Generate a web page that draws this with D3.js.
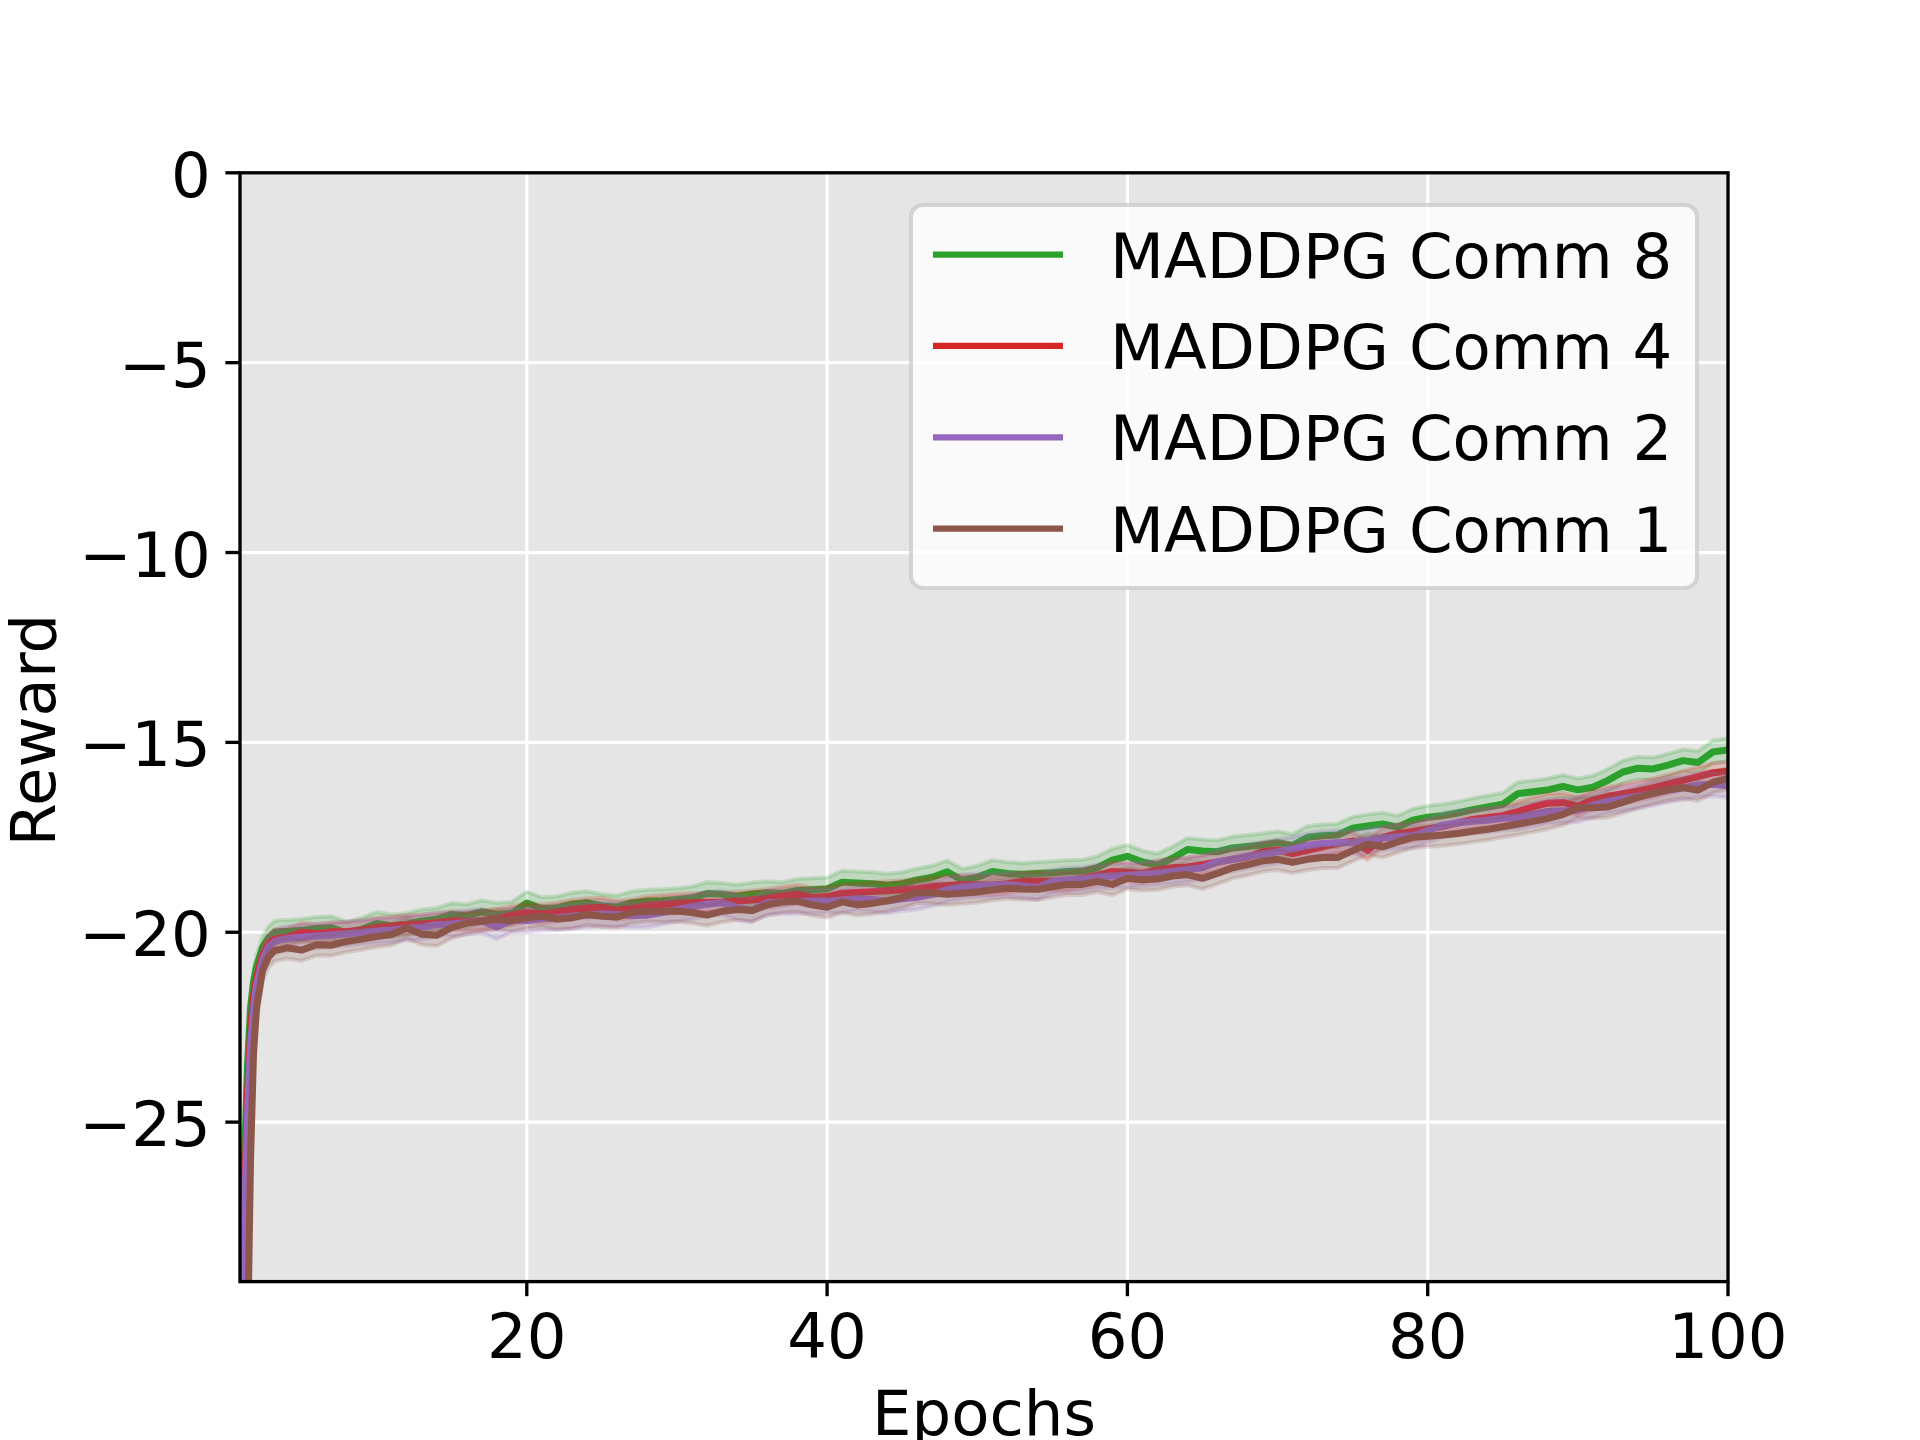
<!DOCTYPE html>
<html>
<head>
<meta charset="utf-8">
<script src="https://cdn.jsdelivr.net/npm/d3@7"></script>
<style>
  body { margin: 0; background: #fff; }
  text { font-family: "DejaVu Sans", sans-serif; fill: #000; }
</style>
</head>
<body>
<svg id="chart" width="1920" height="1440"></svg>
<script>
// epochs (x) shared by every run
const epochs = [1.0, 1.2, 1.4, 1.6, 1.8, 2.0, 2.4, 2.8, 3.2, 3.6,
  4, 5, 6, 7, 8, 9, 10, 11, 12, 13, 14, 15, 16, 17, 18, 19, 20, 21, 22,
  23, 24, 25, 26, 27, 28, 29, 30, 31, 32, 33, 34, 35, 36, 37, 38, 39, 40,
  41, 42, 43, 44, 45, 46, 47, 48, 49, 50, 51, 52, 53, 54, 55, 56, 57, 58, 59, 60,
  61, 62, 63, 64, 65, 66, 67, 68, 69, 70, 71, 72, 73, 74, 75, 76, 77, 78, 79, 80,
  81, 82, 83, 84, 85, 86, 87, 88, 89, 90, 91, 92, 93, 94, 95, 96, 97, 98, 99, 100];

const comm8 = [-29.3, -26.0, -23.5, -22.0, -21.3, -20.9, -20.4, -20.15, -20.0, -19.98,
  -19.98, -19.95, -19.90, -19.88, -20.02, -19.92, -19.77, -19.83, -19.79, -19.70, -19.66, -19.53, -19.56, -19.46, -19.53, -19.50, -19.23, -19.38, -19.36,
  -19.26, -19.22, -19.30, -19.33, -19.22, -19.18, -19.17, -19.14, -19.10, -18.98, -19.00, -19.05, -18.99, -18.96, -18.98, -18.90, -18.88, -18.86,
  -18.68, -18.70, -18.72, -18.76, -18.72, -18.62, -18.55, -18.41, -18.63, -18.55, -18.40, -18.45, -18.48, -18.45, -18.43, -18.40, -18.39, -18.30, -18.10, -18.00,
  -18.15, -18.23, -18.05, -17.82, -17.86, -17.88, -17.78, -17.74, -17.70, -17.64, -17.72, -17.50, -17.46, -17.44, -17.26, -17.20, -17.15, -17.23, -17.05, -16.97,
  -16.93, -16.86, -16.77, -16.70, -16.63, -16.35, -16.30, -16.25, -16.16, -16.25, -16.18, -16.00, -15.78, -15.68, -15.70, -15.60, -15.48, -15.53, -15.25, -15.20];

const comm4 = [-30.5, -27.0, -24.3, -22.6, -21.7, -21.2, -20.6, -20.3, -20.18, -20.15,
  -20.14, -20.00, -20.04, -19.99, -19.98, -19.95, -19.87, -19.84, -19.80, -19.78, -19.75, -19.70, -19.72, -19.69, -19.64, -19.56, -19.48, -19.52, -19.47,
  -19.40, -19.36, -19.34, -19.42, -19.38, -19.30, -19.27, -19.24, -19.22, -19.21, -19.20, -19.18, -19.15, -19.11, -19.05, -19.00, -19.08, -19.06,
  -18.97, -18.95, -18.93, -18.91, -18.88, -18.85, -18.80, -18.77, -18.74, -18.75, -18.76, -18.72, -18.66, -18.65, -18.66, -18.65, -18.58, -18.50, -18.40, -18.42,
  -18.45, -18.36, -18.30, -18.28, -18.22, -18.15, -18.08, -18.02, -17.88, -17.83, -17.93, -17.84, -17.75, -17.66, -17.60, -17.84, -17.50, -17.40, -17.35, -17.28,
  -17.21, -17.12, -17.03, -16.98, -16.93, -16.82, -16.70, -16.60, -16.58, -16.68, -16.52, -16.42, -16.35, -16.28, -16.20, -16.10, -16.00, -15.90, -15.80, -15.76];

const comm2 = [-31.0, -27.5, -24.8, -23.0, -22.0, -21.4, -20.75, -20.4, -20.25, -20.2,
  -20.17, -20.13, -20.10, -20.07, -20.04, -20.00, -19.97, -19.94, -19.90, -19.87, -19.80, -19.78, -19.74, -19.70, -19.86, -19.68, -19.69, -19.64, -19.62,
  -19.58, -19.55, -19.52, -19.53, -19.56, -19.55, -19.48, -19.40, -19.33, -19.26, -19.22, -19.35, -19.42, -19.22, -19.20, -19.19, -19.18, -19.18,
  -19.16, -19.11, -19.14, -19.18, -19.12, -19.08, -19.00, -18.88, -18.80, -18.77, -18.76, -18.74, -18.78, -18.82, -18.66, -18.62, -18.60, -18.54, -18.52, -18.50,
  -18.47, -18.44, -18.40, -18.35, -18.30, -18.15, -18.08, -18.00, -17.94, -17.88, -17.81, -17.72, -17.66, -17.64, -17.64, -17.58, -17.52, -17.48, -17.46, -17.32,
  -17.18, -17.12, -17.08, -17.05, -17.00, -16.98, -16.90, -16.82, -16.80, -16.78, -16.66, -16.55, -16.48, -16.42, -16.35, -16.26, -16.20, -16.12, -16.10, -16.14];

const comm1 = [-34.0, -32.0, -31.0, -26.0, -23.2, -22.0, -21.0, -20.65, -20.48, -20.45,
  -20.41, -20.47, -20.33, -20.34, -20.24, -20.18, -20.11, -20.06, -19.89, -20.05, -20.08, -19.88, -19.76, -19.71, -19.66, -19.70, -19.62, -19.58, -19.65,
  -19.62, -19.53, -19.58, -19.60, -19.48, -19.44, -19.45, -19.44, -19.48, -19.55, -19.45, -19.40, -19.43, -19.28, -19.20, -19.18, -19.28, -19.34,
  -19.20, -19.28, -19.24, -19.17, -19.08, -18.95, -18.96, -19.00, -18.97, -18.94, -18.88, -18.84, -18.86, -18.87, -18.80, -18.74, -18.74, -18.66, -18.74, -18.58,
  -18.62, -18.60, -18.52, -18.48, -18.58, -18.45, -18.30, -18.22, -18.12, -18.08, -18.16, -18.08, -18.03, -18.03, -17.85, -17.68, -17.75, -17.62, -17.50, -17.47,
  -17.44, -17.40, -17.34, -17.29, -17.22, -17.15, -17.08, -17.00, -16.90, -16.72, -16.72, -16.70, -16.58, -16.45, -16.34, -16.25, -16.19, -16.26, -16.05, -15.95];

// half width of the shaded spread around each run
const spread = [0.30, 0.25, 0.32, 0.28];

const labels = ["MADDPG Comm 8", "MADDPG Comm 4", "MADDPG Comm 2", "MADDPG Comm 1"];
const xTicks = [20, 40, 60, 80, 100];
const yTicks = [0, -5, -10, -15, -20, -25];

const colors = ["#2ca02c", "#d62728", "#9467bd", "#8c564b"];
const runs = [comm8, comm4, comm2, comm1];

const plotL = 240, plotR = 1728, plotT = 172.8, plotB = 1281.6;
const fs = 62.5;
const tickLen = 14.6;

const svg = d3.select("#chart");

const x = d3.scaleLinear().domain([0.9, 100]).range([plotL, plotR]);
const y = d3.scaleLinear().domain([-29.2, 0]).range([plotB, plotT]);

svg.append("rect")
    .attr("x", plotL).attr("y", plotT)
    .attr("width", plotR - plotL).attr("height", plotB - plotT)
    .style("fill", "#e5e5e5");

svg.append("clipPath").attr("id", "plot-clip")
    .append("rect")
    .attr("x", plotL).attr("y", plotT)
    .attr("width", plotR - plotL).attr("height", plotB - plotT);

// grid
const grid = svg.append("g");
grid.selectAll(".gx").data(xTicks).enter().append("line")
    .attr("x1", d => x(d)).attr("x2", d => x(d))
    .attr("y1", plotT).attr("y2", plotB)
    .style("stroke", "#fff").style("stroke-width", 3.2);
grid.selectAll(".gy").data(yTicks).enter().append("line")
    .attr("x1", plotL).attr("x2", plotR)
    .attr("y1", d => y(d)).attr("y2", d => y(d))
    .style("stroke", "#fff").style("stroke-width", 3.2);

// runs
const plot = svg.append("g").attr("clip-path", "url(#plot-clip)");
const line = d3.line()
    .x((d, i) => x(epochs[i]))
    .y(d => y(d));

runs.forEach((run, k) => {
    const band = d3.area()
        .x((d, i) => x(epochs[i]))
        .y0(d => y(d - spread[k]))
        .y1(d => y(d + spread[k]));
    plot.append("path")
        .datum(run)
        .attr("d", band)
        .style("fill", colors[k])
        .style("fill-opacity", 0.2)
        .style("stroke", colors[k])
        .style("stroke-opacity", 0.2)
        .style("stroke-width", 4);
    plot.append("path")
        .datum(run)
        .attr("d", line)
        .style("fill", "none")
        .style("stroke", colors[k])
        .style("stroke-width", 7)
        .style("stroke-linejoin", "round");
});

// spines
svg.append("rect")
    .attr("x", plotL).attr("y", plotT)
    .attr("width", plotR - plotL).attr("height", plotB - plotT)
    .style("fill", "none").style("stroke", "#000").style("stroke-width", 3.33);

// ticks
const xAxis = svg.append("g");
xAxis.selectAll("line").data(xTicks).enter().append("line")
    .attr("x1", d => x(d)).attr("x2", d => x(d))
    .attr("y1", plotB).attr("y2", plotB + tickLen)
    .style("stroke", "#000").style("stroke-width", 3.33);
xAxis.selectAll("text").data(xTicks).enter().append("text")
    .attr("x", d => x(d))
    .attr("y", 1358)
    .attr("text-anchor", "middle")
    .style("font-size", fs + "px")
    .text(d => d);

const yAxis = svg.append("g");
yAxis.selectAll("line").data(yTicks).enter().append("line")
    .attr("x1", plotL - tickLen).attr("x2", plotL)
    .attr("y1", d => y(d)).attr("y2", d => y(d))
    .style("stroke", "#000").style("stroke-width", 3.33);
yAxis.selectAll("text").data(yTicks).enter().append("text")
    .attr("x", plotL - tickLen - 14.6)
    .attr("y", d => y(d) + 24)
    .attr("text-anchor", "end")
    .style("font-size", fs + "px")
    .text(d => d < 0 ? "\u2212" + Math.abs(d) : d);

// axis labels
svg.append("text")
    .attr("x", (plotL + plotR) / 2)
    .attr("y", 1435)
    .attr("text-anchor", "middle")
    .style("font-size", fs + "px")
    .text("Epochs");

svg.append("text")
    .attr("transform", `translate(55 ${(plotT + plotB) / 2 + 3}) rotate(-90)`)
    .attr("text-anchor", "middle")
    .style("font-size", fs + "px")
    .text("Reward");

// legend
const legend = svg.append("g");
legend.append("rect")
    .attr("x", 911).attr("y", 205)
    .attr("width", 786).attr("height", 383)
    .attr("rx", 12).attr("ry", 12)
    .style("fill", "#fff").style("fill-opacity", 0.8)
    .style("stroke", "#ccc").style("stroke-opacity", 0.8)
    .style("stroke-width", 4);

const rows = legend.selectAll(".row").data(labels).enter().append("g")
    .attr("transform", (d, i) => `translate(0 ${254.5 + i * 91.4})`);
rows.append("line")
    .attr("x1", 933).attr("x2", 1063)
    .attr("y1", 0).attr("y2", 0)
    .style("stroke", (d, i) => colors[i])
    .style("stroke-width", 6.25);
rows.append("text")
    .attr("x", 1110)
    .attr("y", 23)
    .style("font-size", fs + "px")
    .text(d => d);
</script>
</body>
</html>
